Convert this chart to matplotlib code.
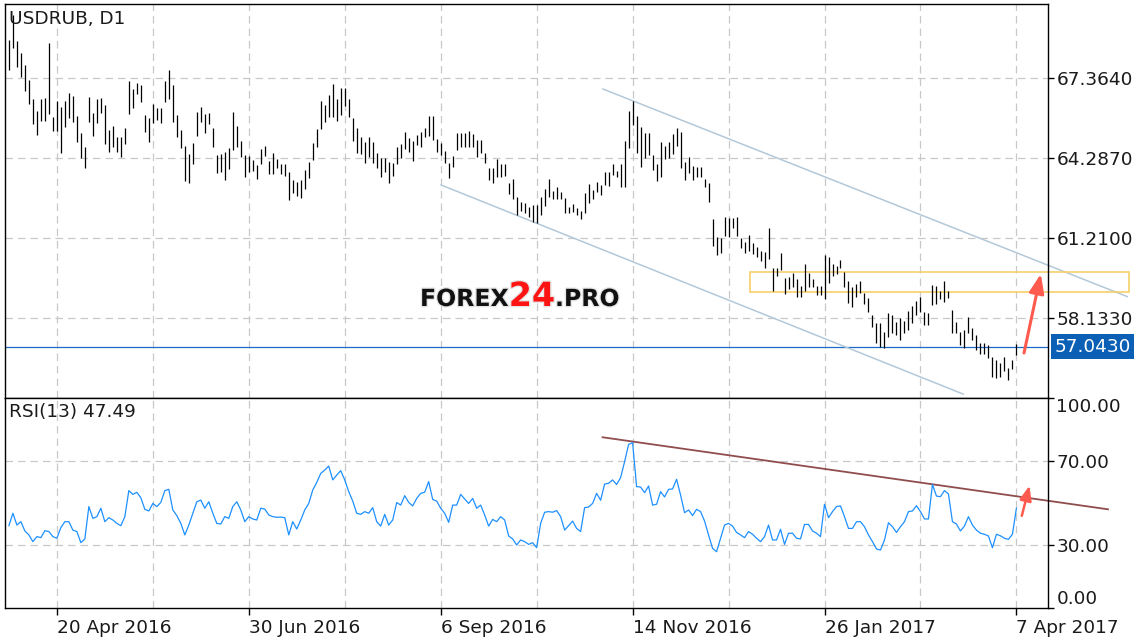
import matplotlib
matplotlib.use('Agg')
import matplotlib.pyplot as plt
from matplotlib.patches import Rectangle
import matplotlib.patheffects as pe

# daily USDRUB bars (high / low), oldest first
highs = [68.84, 69.80, 68.81, 68.35, 67.88, 67.30, 66.56, 66.11, 66.57, 66.59,
         68.73, 65.89, 66.50, 66.26, 66.49, 66.79, 66.68, 65.91, 65.27, 64.74,
         66.65, 66.04, 66.56, 66.61, 66.34, 65.38, 65.53, 65.12, 65.12, 65.45,
         67.26, 66.94, 67.20, 67.11, 65.95, 65.82, 66.38, 66.21, 66.21, 67.26,
         67.68, 67.11, 65.95, 65.38, 64.77, 64.45, 64.86, 66.07, 66.25, 65.99,
         66.04, 65.47, 64.43, 64.45, 64.53, 64.70, 66.07, 65.53, 64.97, 64.41,
         64.39, 64.22, 64.03, 64.65, 64.77, 64.18, 64.49, 64.25, 64.06, 64.07,
         63.77, 63.45, 63.39, 63.45, 63.84, 64.15, 64.89, 65.41, 66.50, 66.35,
         66.72, 67.15, 66.58, 66.99, 66.98, 66.56, 65.85, 65.44, 65.09, 64.90,
         65.09, 64.90, 64.50, 64.29, 64.31, 64.13, 64.09, 64.74, 64.85, 65.29,
         65.06, 64.97, 65.18, 65.30, 65.44, 65.93, 65.93, 65.03, 64.86, 64.56,
         64.09, 64.39, 65.25, 65.25, 65.27, 65.34, 65.21, 64.99, 64.99, 64.50,
         63.93, 63.93, 64.25, 64.06, 64.07, 63.35, 63.49, 62.81, 62.62, 62.56,
         62.43, 62.49, 62.49, 62.81, 63.11, 63.49, 63.03, 63.20, 63.01, 62.75,
         62.43, 62.53, 62.36, 62.27, 62.94, 63.29, 63.07, 63.39, 63.26, 63.75,
         63.77, 64.07, 63.81, 64.07, 64.95, 66.11, 66.49, 65.91, 65.50, 65.25,
         65.27, 64.41, 64.07, 64.90, 64.77, 64.90, 65.21, 65.47, 65.31, 64.13,
         64.33, 63.99, 63.94, 63.94, 63.49, 63.35, 61.95, 61.25, 61.23, 62.04,
         61.98, 61.98, 62.02, 61.21, 61.06, 61.34, 61.02, 60.86, 60.74, 60.67,
         61.59, 60.06, 60.08, 60.63, 59.70, 59.74, 59.89, 59.63, 59.38, 60.21,
         59.89, 59.63, 59.39, 59.38, 60.57, 60.48, 60.21, 60.16, 60.38, 59.93,
         59.57, 59.35, 59.45, 59.57, 59.09, 58.93, 58.26, 57.97, 57.94, 57.62,
         58.33, 58.26, 58.00, 58.13, 58.04, 58.41, 58.61, 58.80, 58.97, 58.39,
         58.33, 59.41, 59.38, 59.18, 59.57, 59.18, 58.45, 58.00, 57.62, 57.68,
         58.17, 57.75, 57.49, 57.20, 57.17, 57.11, 56.66, 56.53, 56.43, 56.66,
         56.21, 56.53, 57.15]
lows = [67.68, 68.54, 67.81, 67.40, 66.89, 66.36, 65.59, 65.20, 65.73, 65.73,
        65.98, 65.35, 65.34, 64.50, 65.50, 65.82, 65.68, 64.93, 64.29, 63.93,
        65.70, 65.16, 65.63, 66.02, 64.83, 64.54, 64.71, 64.54, 64.35, 64.83,
        65.98, 66.24, 66.75, 66.47, 65.29, 64.93, 65.63, 65.76, 65.66, 66.47,
        66.57, 65.70, 65.09, 64.70, 63.41, 63.35, 64.07, 65.15, 65.70, 65.25,
        65.61, 64.74, 63.71, 63.75, 63.45, 63.88, 64.61, 64.74, 64.35, 63.58,
        63.77, 63.81, 63.49, 64.07, 64.38, 63.68, 63.70, 63.90, 63.68, 63.62,
        62.68, 62.97, 62.85, 62.76, 63.11, 63.54, 64.22, 64.74, 65.41, 65.68,
        65.86, 65.89, 65.72, 65.95, 66.31, 65.89, 64.97, 64.48, 64.45, 64.12,
        64.35, 64.09, 63.90, 63.58, 63.77, 63.35, 63.61, 64.07, 64.29, 64.66,
        64.54, 64.20, 64.80, 64.74, 65.12, 65.15, 64.99, 64.52, 64.41, 64.09,
        63.54, 63.97, 64.61, 64.71, 64.74, 64.74, 64.71, 64.35, 64.48, 64.09,
        63.45, 63.35, 63.58, 63.58, 63.61, 62.90, 62.71, 62.11, 62.27, 62.17,
        62.04, 61.85, 61.81, 62.11, 62.47, 62.81, 62.71, 62.71, 62.71, 62.17,
        62.17, 62.24, 62.11, 61.95, 62.17, 62.56, 62.72, 63.01, 62.88, 63.26,
        63.24, 63.65, 63.58, 63.20, 63.20, 64.70, 65.57, 64.50, 63.94, 64.29,
        64.41, 63.84, 63.41, 63.58, 64.25, 64.29, 64.44, 64.77, 63.93, 63.45,
        63.74, 63.45, 63.58, 63.58, 63.20, 62.62, 60.91, 60.57, 60.63, 61.30,
        61.27, 61.59, 61.30, 60.83, 60.66, 60.74, 60.61, 60.48, 60.35, 60.08,
        60.40, 59.18, 59.76, 59.99, 59.06, 59.25, 59.33, 58.94, 58.97, 59.20,
        59.33, 59.33, 59.03, 59.03, 58.86, 59.50, 59.76, 59.84, 60.06, 59.35,
        58.71, 58.56, 58.97, 59.12, 58.68, 58.39, 57.81, 57.17, 57.04, 56.98,
        57.43, 57.56, 57.49, 57.30, 57.56, 57.68, 57.94, 58.26, 58.39, 57.88,
        57.88, 58.65, 58.68, 58.88, 58.77, 58.93, 57.58, 57.56, 57.11, 56.98,
        57.56, 57.30, 56.91, 56.75, 56.75, 56.62, 55.89, 55.83, 55.89, 56.12,
        55.76, 56.17, 56.72]
rsi = [39.2, 45.1, 39.5, 41.1, 36.7, 34.8, 31.6, 34.0, 33.5, 36.8,
       36.4, 34.0, 33.2, 38.3, 41.1, 41.1, 37.1, 36.4, 31.1, 32.9,
       48.3, 42.7, 43.5, 47.5, 41.1, 43.0, 41.9, 40.3, 39.2, 43.5,
       55.9, 54.1, 55.1, 52.5, 47.0, 46.2, 49.8, 48.3, 50.3, 55.9,
       56.5, 46.7, 44.0, 40.3, 34.8, 39.5, 45.1, 50.6, 51.4, 47.5,
       50.6, 45.1, 40.3, 40.0, 43.5, 42.7, 48.3, 50.6, 46.7, 41.1,
       43.5, 42.4, 41.9, 47.5, 47.1, 44.3, 43.5, 43.2, 43.3, 43.0,
       34.8, 41.1, 37.6, 41.9, 46.7, 49.8, 56.2, 59.8, 64.1, 65.7,
       67.6, 61.0, 63.3, 65.4, 61.0, 55.4, 50.9, 45.1, 44.6, 45.9,
       45.1, 47.8, 41.1, 39.0, 44.6, 39.5, 41.9, 50.2, 49.0, 53.5,
       50.3, 48.6, 52.2, 54.6, 55.1, 60.2, 51.7, 50.9, 47.5, 45.1,
       40.8, 49.0, 49.0, 54.1, 51.9, 49.8, 52.2, 47.5, 49.0, 44.3,
       39.0, 42.2, 41.1, 43.5, 41.9, 34.3, 32.9, 30.0, 32.4, 31.6,
       30.3, 31.1, 28.7, 40.3, 45.6, 45.9, 45.6, 46.4, 43.5, 37.1,
       39.2, 41.4, 37.9, 36.4, 47.8, 48.1, 49.8, 54.6, 51.3, 59.0,
       59.4, 61.0, 58.8, 62.1, 69.7, 77.9, 78.7, 57.8, 57.6, 54.9,
       58.1, 49.0, 49.4, 55.4, 52.9, 56.5, 56.7, 61.3, 53.8, 45.4,
       46.7, 44.0, 47.0, 45.9, 41.4, 34.8, 28.4, 26.8, 33.2, 39.5,
       40.3, 39.0, 36.0, 34.8, 33.5, 36.4, 35.1, 33.2, 31.6, 34.0,
       39.5, 32.4, 32.4, 37.5, 30.3, 35.6, 35.6, 33.2, 32.9, 39.8,
       39.8, 36.7, 35.6, 34.0, 49.4, 43.0, 45.9, 48.3, 48.6, 43.5,
       37.9, 37.9, 41.1, 41.1, 38.7, 34.8, 31.6, 28.1, 27.6, 32.4,
       40.6, 38.7, 36.0, 38.7, 41.1, 45.9, 46.2, 48.7, 45.9, 42.4,
       42.4, 58.9, 53.3, 53.0, 55.9, 54.3, 41.1, 40.0, 36.7, 39.0,
       43.5, 39.5, 37.1, 35.6, 35.1, 34.3, 28.7, 35.1, 34.4, 33.2,
       32.7, 35.1, 47.49]

last_price = 57.043
price_ticks = [67.364, 64.287, 61.21, 58.133]
rsi_ticks = [100, 70, 30, 0]
date_ticks = [12, 60, 108, 156, 204, 252]
date_labels = ['20 Apr 2016', '30 Jun 2016', '6 Sep 2016', '14 Nov 2016',
               '26 Jan 2017', '7 Apr 2017']

# drawn analysis objects, (bar index, value)
channel_upper = [(148.6, 66.95), (279.7, 58.97)]
channel_lower = [(108.1, 63.26), (238.7, 55.22)]
zone_x = [185.4, 280.2]
zone_y = [59.13, 59.90]
price_arrow = [(253.9, 56.80), (258.1, 59.84)]
rsi_trend = [(148.5, 81.3), (274.9, 47.0)]
rsi_arrow = [(253.35, 43.9), (255.25, 58.2)]

W, H = 1136, 640
fig = plt.figure(figsize=(W / 100, H / 100), dpi=100)
left, right = 4.5 / W, 1048 / W
ax = fig.add_axes([left, 1 - 398 / H, right - left, 394 / H])
ax2 = fig.add_axes([left, 1 - 608 / H, right - left, 210 / H])

xs = list(range(len(highs)))
grid_x = list(range(12, 260, 24))
grid_kw = dict(color='#c8c8c8', lw=0.9, dashes=(6, 4), zorder=0)
txt = '#1a1a1a'

for a in (ax, ax2):
    a.set_xlim(-1.1, 259.9)
    for g in grid_x:
        a.axvline(g, **grid_kw)
    for s in a.spines.values():
        s.set_linewidth(1.0)
    a.yaxis.tick_right()
    a.tick_params(axis='y', direction='out', length=4, width=1, pad=2,
                  labelsize=13.3, labelcolor=txt)

# price panel
for p in price_ticks:
    ax.axhline(p, **grid_kw)
ax.vlines(xs, lows, highs, color='black', lw=0.9, zorder=3)
ax.axhline(last_price, color='#1a6cc8', lw=0.9, zorder=2)
ax.set_ylim(55.07, 70.22)
ax.set_yticks(price_ticks)
ax.set_yticklabels(['%.4f' % p for p in price_ticks])
ax.set_xticks([])

ax.plot(*zip(*channel_upper), color='#b3c8d8', lw=1.1, clip_on=False, zorder=2)
ax.plot(*zip(*channel_lower), color='#b3c8d8', lw=1.1, clip_on=False, zorder=2)
ax.add_patch(Rectangle((zone_x[0], zone_y[0]), zone_x[1] - zone_x[0],
                       zone_y[1] - zone_y[0], fill=False, ec='#f6cf6a',
                       lw=1.2, clip_on=False, zorder=2))
ax.annotate('', xy=price_arrow[1], xytext=price_arrow[0],
            arrowprops=dict(arrowstyle='-|>,head_length=1.15,head_width=0.45',
                            color='#ff5a4e', lw=2.2, shrinkA=0, shrinkB=0,
                            mutation_scale=10),
            annotation_clip=False)
ax.annotate('%.4f' % last_price, xy=(1, last_price),
            xycoords=('axes fraction', 'data'), xytext=(4.5, 0),
            textcoords='offset points', ha='left', va='center', color='white',
            fontsize=13.3,
            bbox=dict(boxstyle='square,pad=0.2', fc='#0b5fb5', ec='none'),
            annotation_clip=False)
ax.text(0.004, 0.985, 'USDRUB, D1', transform=ax.transAxes, ha='left',
        va='top', fontsize=13.3, color=txt)

# rsi panel
for r in (70, 30):
    ax2.axhline(r, **grid_kw)
ax2.plot(xs, rsi, color='#1e90ff', lw=0.9, zorder=3)
ax2.set_ylim(0, 100)
ax2.set_yticks(rsi_ticks)
ax2.set_yticklabels(['%.2f' % r for r in rsi_ticks])
ylabs = ax2.get_yticklabels()
ylabs[0].set_va('top')
ylabs[-1].set_va('bottom')
ax2.plot(*zip(*rsi_trend), color='#8f4d4d', lw=1.3, clip_on=False, zorder=2)
ax2.annotate('', xy=rsi_arrow[1], xytext=rsi_arrow[0],
             arrowprops=dict(arrowstyle='-|>,head_length=1.1,head_width=0.45',
                             color='#ff5a4e', lw=1.8, shrinkA=0, shrinkB=0,
                             mutation_scale=8),
             annotation_clip=False)
ax2.text(0.004, 0.975, 'RSI(13) %.2f' % rsi[-1], transform=ax2.transAxes,
         ha='left', va='top', fontsize=13.3, color=txt)
ax2.set_xticks(date_ticks)
ax2.set_xticklabels(date_labels, ha='left')
ax2.tick_params(axis='x', direction='out', length=5, width=1, pad=3,
                labelsize=13.3, labelcolor=txt)

# watermark
renderer = fig.canvas.get_renderer()
x = 420
for s, c, fs in [('FOREX', '#111111', 17), ('24', '#ff1414', 24),
                 ('.PRO', '#111111', 17)]:
    t = fig.text(x / W, 1 - 306 / H, s, fontsize=fs, fontweight='bold',
                 color=c, ha='left', va='baseline', zorder=5,
                 path_effects=[pe.withStroke(linewidth=2, foreground='#e6e6e6')])
    x = t.get_window_extent(renderer).x1

fig.savefig('out.png', dpi=100)
